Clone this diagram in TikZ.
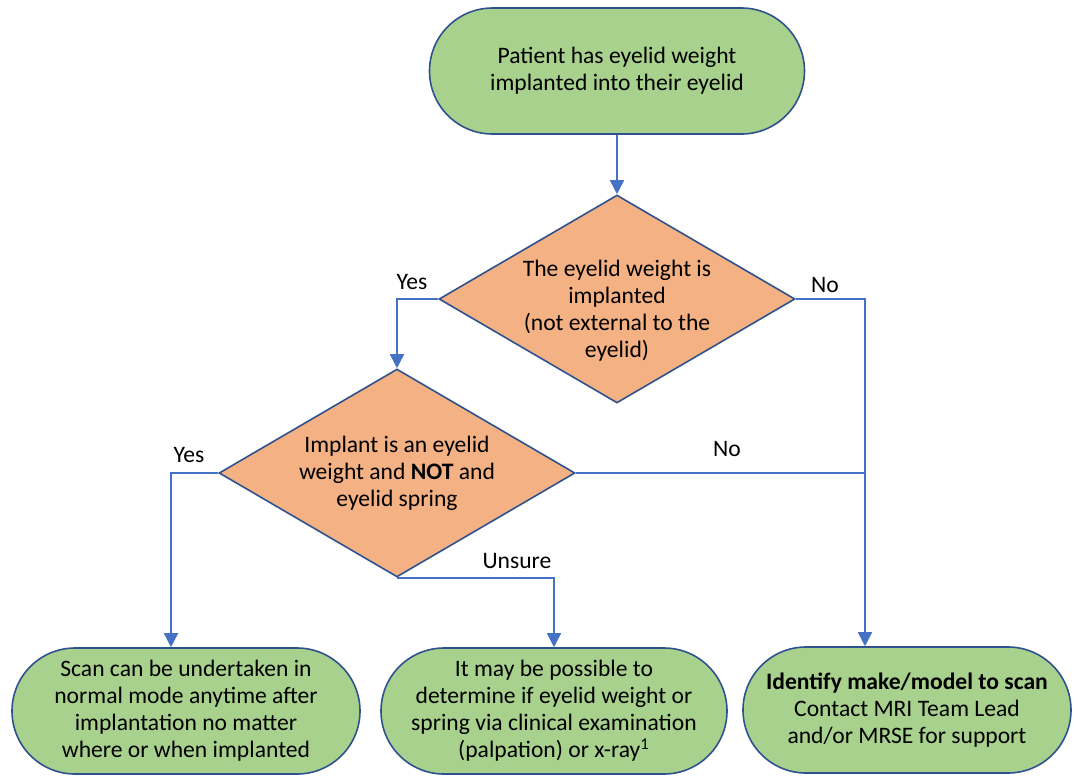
\documentclass[tikz,border=0pt]{standalone}
\usepackage{fontspec}
\setmainfont{Carlito}
\usepackage{tikz}
\usetikzlibrary{arrows.meta,positioning,calc,shapes.geometric,shapes.misc}
\definecolor{cGreen}{HTML}{A9D18E}
\definecolor{cOrng} {HTML}{F4B183}
\definecolor{cEdge} {HTML}{2F528F}
\definecolor{cLine} {HTML}{4472C4}
\tikzset{
  term/.style  ={rounded rectangle,draw=cEdge,fill=cGreen,line width=0.8pt,
                 align=center,inner sep=2pt,minimum height=63pt},
  dec/.style   ={diamond,draw=cEdge,fill=cOrng,line width=0.8pt,inner sep=0pt,
                 minimum width=178pt,minimum height=104pt},
  dtxt/.style  ={align=center,inner sep=0pt},
  flow/.style  ={-{Triangle[length=7pt,width=7pt]},draw=cLine,line width=0.8pt},
  conn/.style  ={draw=cLine,line width=0.8pt},
  tag/.style   ={inner sep=1pt},
}

\begin{document}
\begin{tikzpicture}[x=0.5pt, y=-0.5pt,
  font=\fontsize{11.8}{13.5}\selectfont]
\useasboundingbox (0,0) rectangle (1084,778);

\node[term,minimum width=191.5pt] (start) at (617,71)
  {Patient has eyelid weight\\implanted into their eyelid};

\node[dec] (d1) at (617,299) {};
\node[dtxt,yshift=-6pt] (d1t) at (d1)
  {The eyelid weight is\\implanted\\(not external to the\\eyelid)};

\node[dec] (d2) at (397,473) {};
\node[dtxt] (d2t) at (d2)
  {Implant is an eyelid\\weight and \textbf{NOT} and\\eyelid spring};

% outcomes
\node[term,minimum width=178pt] (scan) at (186,711)
  {Scan can be undertaken in\\normal mode anytime after\\
   implantation no matter\\where or when implanted};
\node[term,minimum width=177pt] (maybe) at (554,711)
  {It may be possible to\\determine if eyelid weight or\\
   spring via clinical examination\\(palpation) or x-ray\textsuperscript{1}};
\node[term,minimum width=168pt] (ident) at (907,710)
  {\textbf{Identify make/model to scan}\\Contact MRI Team Lead\\and/or MRSE for support};

\coordinate (join) at (865,473);
\coordinate (ydn) at (171,473);

\draw[flow] (start.south) -- (d1.north);
\draw[flow] (d1.west) -| (d2.north);
\draw[flow] (d1.east) -| (join) -- (join |- ident.north);
\draw[conn] (d2.east) -- (join);
\draw[flow] (d2.west) -- (ydn) -- (ydn |- scan.north);
\draw[flow] (d2.south) -| (maybe.north);

\node[tag] (yes1) at (412,282) {Yes};
\node[tag] (no1)  at (825,285) {No};
\node[tag] (yes2) at (189,455) {Yes};
\node[tag] (no2)  at (727,449) {No};
\node[tag] (uns)  at (517,561) {Unsure};
\end{tikzpicture}
\end{document}
